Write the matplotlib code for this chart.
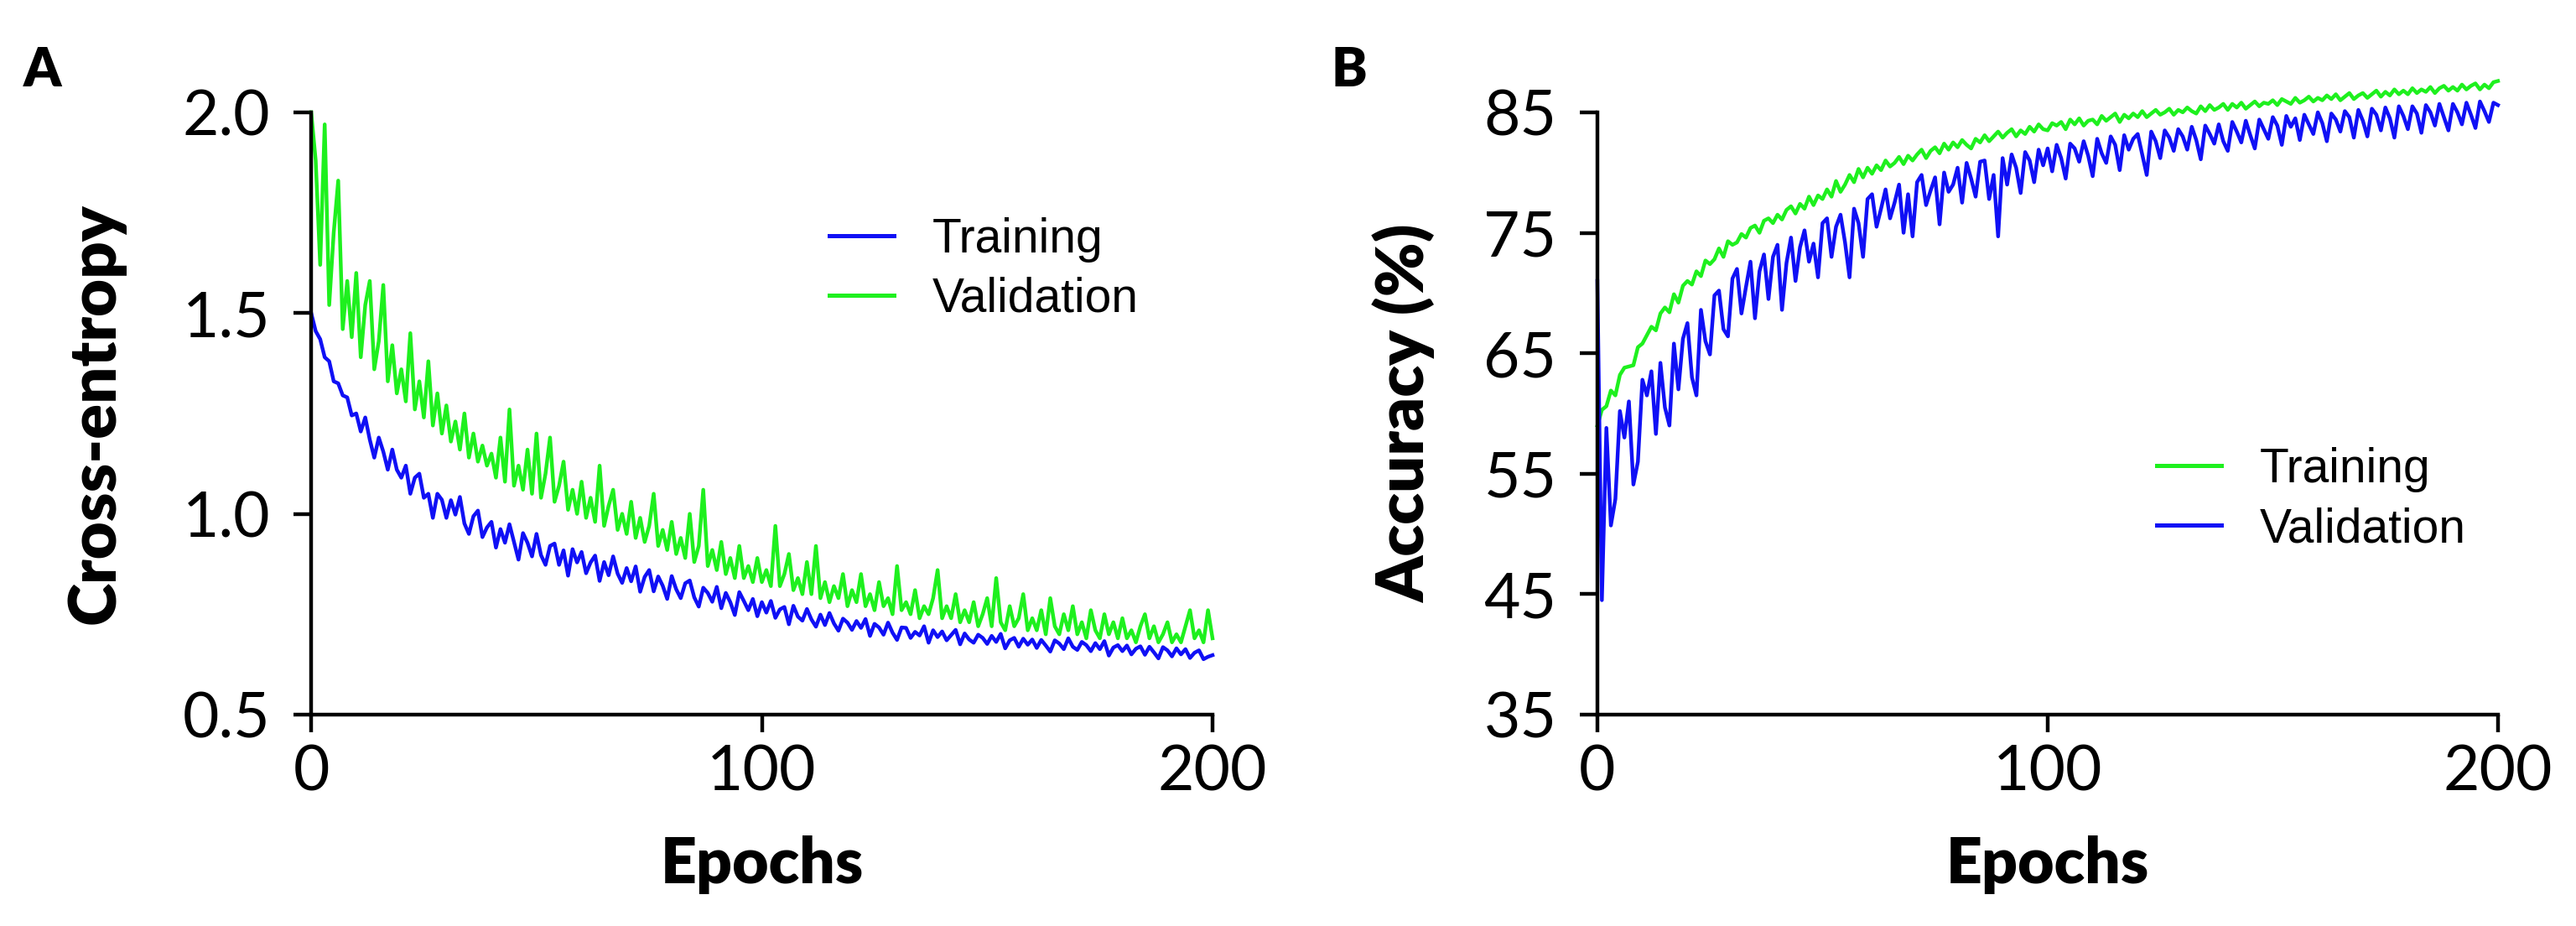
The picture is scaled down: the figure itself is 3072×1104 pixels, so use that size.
import numpy as np
import matplotlib.pyplot as plt

# epochs 0..200
epochs = list(range(201))

# panel A - cross-entropy
loss_train = [
    1.500, 1.455, 1.435, 1.390, 1.380, 1.330, 1.325, 1.295, 1.290, 1.245,
    1.250, 1.205, 1.240, 1.185, 1.140, 1.190, 1.155, 1.110, 1.160, 1.110,
    1.090, 1.120, 1.050, 1.090, 1.100, 1.040, 1.050, 0.990, 1.050, 1.035,
    0.990, 1.034, 0.998, 1.042, 0.976, 0.950, 0.994, 1.008, 0.942, 0.966,
    0.980, 0.916, 0.962, 0.928, 0.974, 0.930, 0.886, 0.952, 0.928, 0.894,
    0.950, 0.897, 0.873, 0.920, 0.926, 0.873, 0.909, 0.846, 0.912, 0.879,
    0.905, 0.852, 0.879, 0.896, 0.833, 0.880, 0.847, 0.894, 0.851, 0.828,
    0.865, 0.832, 0.869, 0.806, 0.843, 0.860, 0.807, 0.844, 0.821, 0.788,
    0.845, 0.812, 0.790, 0.827, 0.834, 0.792, 0.769, 0.816, 0.803, 0.781,
    0.818, 0.765, 0.803, 0.780, 0.748, 0.805, 0.783, 0.760, 0.788, 0.745,
    0.780, 0.754, 0.783, 0.741, 0.762, 0.768, 0.725, 0.771, 0.744, 0.734,
    0.763, 0.737, 0.719, 0.749, 0.723, 0.753, 0.727, 0.709, 0.739, 0.729,
    0.711, 0.733, 0.716, 0.738, 0.696, 0.726, 0.717, 0.699, 0.729, 0.704,
    0.686, 0.717, 0.716, 0.691, 0.706, 0.697, 0.720, 0.679, 0.710, 0.693,
    0.707, 0.685, 0.698, 0.711, 0.675, 0.702, 0.687, 0.679, 0.699, 0.691,
    0.676, 0.696, 0.681, 0.701, 0.665, 0.685, 0.691, 0.669, 0.689, 0.674,
    0.687, 0.666, 0.686, 0.672, 0.657, 0.685, 0.677, 0.663, 0.690, 0.669,
    0.661, 0.681, 0.673, 0.658, 0.678, 0.663, 0.683, 0.647, 0.667, 0.673,
    0.658, 0.672, 0.650, 0.664, 0.670, 0.649, 0.669, 0.655, 0.640, 0.668,
    0.660, 0.645, 0.665, 0.650, 0.663, 0.641, 0.654, 0.660, 0.638, 0.644,
    0.648,
]
loss_val = [
    2.00, 1.88, 1.62, 1.97, 1.52, 1.70, 1.83, 1.46, 1.58, 1.44,
    1.60, 1.39, 1.52, 1.58, 1.36, 1.43, 1.57, 1.33, 1.42, 1.30,
    1.36, 1.28, 1.45, 1.26, 1.33, 1.24, 1.38, 1.22, 1.30, 1.20,
    1.27, 1.18, 1.23, 1.16, 1.25, 1.14, 1.20, 1.13, 1.17, 1.12,
    1.15, 1.09, 1.19, 1.08, 1.26, 1.07, 1.12, 1.06, 1.16, 1.05,
    1.20, 1.04, 1.10, 1.19, 1.03, 1.07, 1.13, 1.01, 1.06, 1.00,
    1.08, 0.99, 1.04, 0.98, 1.12, 0.97, 1.02, 1.06, 0.96, 1.00,
    0.95, 1.03, 0.94, 0.99, 0.93, 0.97, 1.05, 0.92, 0.96, 0.91,
    0.98, 0.90, 0.94, 0.89, 1.00, 0.88, 0.92, 1.06, 0.87, 0.91,
    0.86, 0.93, 0.85, 0.89, 0.84, 0.92, 0.84, 0.87, 0.83, 0.89,
    0.83, 0.86, 0.82, 0.97, 0.82, 0.85, 0.90, 0.81, 0.84, 0.80,
    0.88, 0.80, 0.92, 0.79, 0.83, 0.78, 0.82, 0.79, 0.85, 0.77,
    0.81, 0.78, 0.85, 0.77, 0.80, 0.76, 0.83, 0.77, 0.79, 0.75,
    0.87, 0.76, 0.78, 0.75, 0.81, 0.74, 0.77, 0.75, 0.79, 0.86,
    0.74, 0.77, 0.74, 0.80, 0.73, 0.76, 0.73, 0.78, 0.72, 0.75,
    0.79, 0.72, 0.84, 0.73, 0.71, 0.77, 0.72, 0.74, 0.80, 0.71,
    0.74, 0.71, 0.76, 0.70, 0.79, 0.72, 0.70, 0.75, 0.71, 0.77,
    0.70, 0.73, 0.69, 0.76, 0.71, 0.69, 0.75, 0.70, 0.73, 0.69,
    0.74, 0.69, 0.71, 0.68, 0.72, 0.75, 0.69, 0.72, 0.68, 0.70,
    0.73, 0.68, 0.70, 0.68, 0.72, 0.76, 0.69, 0.71, 0.68, 0.76,
    0.69,
]

# panel B - accuracy (%)
acc_train = [
    59.0, 60.3, 60.6, 61.9, 61.5, 63.2, 63.8, 63.9, 64.0, 65.5,
    65.8, 66.5, 67.2, 66.9, 68.3, 68.8, 68.4, 69.9, 69.2, 70.6,
    71.0, 70.7, 71.8, 71.4, 72.7, 72.4, 72.8, 73.7, 73.0, 74.3,
    74.0, 74.2, 74.9, 74.6, 75.4, 75.6, 75.0, 76.0, 76.2, 75.8,
    76.5, 76.1, 76.9, 77.2, 76.6, 77.4, 77.0, 78.0, 77.3, 78.1,
    77.8, 78.6, 78.0, 79.3, 78.4, 79.0, 79.8, 79.2, 80.3, 79.6,
    80.4, 79.9, 80.6, 80.2, 81.0, 80.5, 80.8, 81.3, 80.7, 81.4,
    81.0, 81.5, 81.9, 81.2, 81.8, 82.1, 81.6, 82.4, 81.9, 82.5,
    82.1, 82.7, 82.3, 82.0, 82.8, 82.5, 83.1, 82.6, 83.0, 83.4,
    82.9, 83.3, 83.6, 83.0, 83.5, 83.2, 83.8, 83.4, 84.0, 83.6,
    83.5, 84.1, 83.9, 84.2, 83.6, 84.4, 84.0, 84.5, 83.9, 84.3,
    84.4, 84.0, 84.7, 84.3, 84.6, 84.9, 84.2, 84.8, 84.5, 84.9,
    84.6, 85.1, 84.6, 84.9, 85.2, 84.8, 85.0, 85.3, 84.8, 85.2,
    85.0, 85.4, 85.1, 84.9, 85.5, 85.1, 85.6, 85.2, 85.4, 85.7,
    85.2, 85.7, 85.4, 85.8, 85.3, 85.6, 85.9, 85.5, 85.8, 85.7,
    86.0, 85.6, 86.1, 85.9, 85.7, 86.2, 85.8, 86.0, 86.3, 85.9,
    86.2, 86.0, 86.4, 86.1, 86.5, 86.0, 86.3, 86.6, 86.1, 86.4,
    86.6, 86.2, 86.5, 86.8, 86.3, 86.7, 86.4, 86.9, 86.5, 86.8,
    86.5, 87.0, 86.6, 86.9, 86.7, 87.1, 86.6, 87.0, 87.2, 86.8,
    87.1, 86.8, 87.3, 86.9, 87.2, 87.4, 86.9, 87.3, 87.0, 87.5,
    87.6,
]
acc_val = [
    71.0, 44.5, 58.8, 50.7, 52.9, 60.2, 58.0, 61.0, 54.1, 56.0,
    62.8, 61.5, 63.5, 58.3, 64.2, 60.5, 59.0, 65.8, 62.0, 66.2,
    67.5, 63.0, 61.5, 68.6, 66.0, 64.9, 69.8, 70.2, 67.0, 66.4,
    71.2, 72.0, 68.3, 70.5, 72.6, 67.9, 71.8, 73.2, 69.5, 73.0,
    74.0, 68.6, 72.5, 74.6, 71.0, 73.8, 75.2, 72.6, 74.1, 71.3,
    75.8, 76.2, 73.0, 75.5, 76.5, 74.2, 71.3, 77.0, 75.8, 73.0,
    77.8, 78.2, 75.5, 77.0, 78.6, 76.2, 77.5, 79.0, 75.0, 78.2,
    74.7, 79.2, 79.8, 77.3, 78.5, 79.6, 75.7, 80.0, 78.4, 79.0,
    80.4, 77.5, 80.8, 79.5, 78.0, 80.9, 81.0, 77.8, 79.8, 74.7,
    81.2, 79.0, 81.5, 80.4, 78.3, 81.7, 81.0, 79.2, 81.9, 80.6,
    82.0, 80.1, 82.3, 81.2, 79.5, 82.4, 82.0, 80.9, 82.6, 81.4,
    79.7, 82.8, 81.6, 80.8, 83.0, 82.3, 80.2, 83.1, 81.9, 82.8,
    83.2, 81.5, 79.8, 83.4, 82.6, 81.2, 83.5, 82.9, 81.8, 83.6,
    83.0, 81.9, 83.8, 82.7, 81.1, 83.9, 83.2, 82.4, 84.0, 82.6,
    81.8, 84.2, 83.4, 82.5, 84.3, 83.1, 82.0, 84.4, 83.6, 82.8,
    84.6, 83.9, 82.3, 84.7, 83.8, 84.5, 82.7, 84.8, 84.0, 83.2,
    85.0, 84.1, 82.6, 84.9, 84.4, 83.4, 85.1, 84.6, 82.9, 85.2,
    84.3, 83.0, 85.3, 84.8, 83.5, 85.4, 84.5, 82.9, 85.5, 84.7,
    83.6, 85.5, 84.9, 83.3, 85.6, 85.0, 83.9, 85.7, 84.6, 83.5,
    85.7, 85.0, 84.0, 85.8, 84.8, 83.7, 85.9, 85.1, 84.2, 85.8,
    85.6,
]

loss_ticks = [0.5, 1.0, 1.5, 2.0]
acc_ticks = [35, 45, 55, 65, 75, 85]
epoch_ticks = [0, 100, 200]

BLUE = "#1010f5"
GREEN = "#1ef01e"
LW = 3.2

plt.rcParams["font.family"] = ["Lato", "DejaVu Sans"]

fig = plt.figure(figsize=(30.72, 11.04), dpi=100)
axA = fig.add_axes([0.1208, 0.2283, 0.3499, 0.6504])
axB = fig.add_axes([0.6201, 0.2283, 0.3496, 0.6504])


def style_axis(ax):
    for s in ["top", "right"]:
        ax.spines[s].set_visible(False)
    for s in ["left", "bottom"]:
        ax.spines[s].set_linewidth(3.2)
    ax.tick_params(direction="out", length=15, width=3.2, labelsize=54)
    ax.tick_params(axis="y", pad=20)
    ax.tick_params(axis="x", pad=10)
    ax.set_xlim(0, 200)
    ax.set_xticks(epoch_ticks)
    ax.set_xlabel("Epochs", fontsize=54, fontweight="heavy")
    ax.xaxis.set_label_coords(0.5, -0.2)
    ax.xaxis.label.set_verticalalignment("top")


# A: cross-entropy
axA.plot(epochs, loss_val, color=GREEN, lw=LW, label="Validation", clip_on=False)
axA.plot(epochs, loss_train, color=BLUE, lw=LW, label="Training", clip_on=False)
style_axis(axA)
axA.set_ylim(0.5, 2.0)
axA.set_yticks(loss_ticks)
axA.set_yticklabels([f"{t:.1f}" for t in loss_ticks])
axA.set_ylabel("Cross-entropy", fontsize=56, fontweight="heavy")
axA.yaxis.set_label_coords(-0.239, 0.5)
axA.yaxis.label.set_verticalalignment("center")
h, l = axA.get_legend_handles_labels()
legA = axA.legend([h[1], h[0]], [l[1], l[0]], loc="center left", bbox_to_anchor=(0.575, 0.739),
                  frameon=False, borderpad=0, borderaxespad=0, handlelength=1.35,
                  handletextpad=0.8, labelspacing=0.3,
                  prop={"family": "Liberation Sans", "size": 41})

# B: accuracy
axB.plot(epochs, acc_train, color=GREEN, lw=LW, label="Training", clip_on=False)
axB.plot(epochs, acc_val, color=BLUE, lw=LW, label="Validation", clip_on=False)
style_axis(axB)
axB.set_ylim(35, 85)
axB.set_yticks(acc_ticks)
axB.set_ylabel("Accuracy (%)", fontsize=56, fontweight="heavy")
axB.yaxis.set_label_coords(-0.214, 0.5)
axB.yaxis.label.set_verticalalignment("center")
legB = axB.legend(loc="center left", bbox_to_anchor=(0.621, 0.357),
                  frameon=False, borderpad=0, borderaxespad=0, handlelength=1.35,
                  handletextpad=0.8, labelspacing=0.3,
                  prop={"family": "Liberation Sans", "size": 41})
for leg in (legA, legB):
    for ln in leg.get_lines():
        ln.set_linewidth(3.6)

fig.text(0.0091, 0.907, "A", fontsize=46, fontweight="heavy", va="baseline")
fig.text(0.5169, 0.907, "B", fontsize=46, fontweight="heavy", va="baseline")

fig.savefig("out.png", dpi=100)
